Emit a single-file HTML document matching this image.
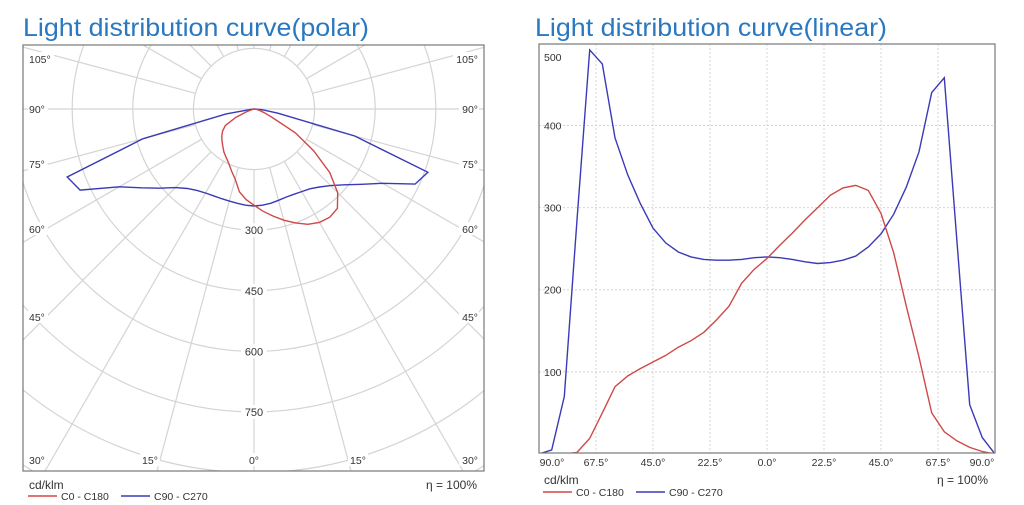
<!DOCTYPE html>
<html><head><meta charset="utf-8"><style>
html,body{margin:0;padding:0;background:#fff;width:1024px;height:505px;overflow:hidden}
svg{display:block;font-family:"Liberation Sans",sans-serif;overflow:hidden}
</style></head><body>
<svg id="s" width="1024" height="505" viewBox="0 0 1024 505">
<text x="23" y="36" font-size="25" fill="#2a78c0" textLength="346" lengthAdjust="spacingAndGlyphs">Light distribution curve(polar)</text>
<text x="535" y="36" font-size="25" fill="#2a78c0" textLength="352" lengthAdjust="spacingAndGlyphs">Light distribution curve(linear)</text>
<defs>
<clipPath id="cp"><rect x="23" y="45" width="461" height="426"/></clipPath>
<clipPath id="cl"><rect x="539" y="44" width="456" height="409"/></clipPath>
</defs>
<g id="polar"></g>
<g id="linear"></g>
</svg>
<script>
const angles = [-90,-85,-80,-75,-70,-65,-60,-55,-50,-45,-40,-35,-30,-25,-20,-15,-10,-5,0,5,10,15,20,25,30,35,40,45,50,55,60,65,70,75,80,85,90];
const c0c180 = [0,0,0,2,19,50,82,95,104,112,120,130,138,148,163,180,208,225,238,254,269,285,300,315,324,327,321,293,245,180,118,50,27,16,8,3,0];
const c90c270 = [0,5,70,285,492,475,385,340,305,275,257,246,240,237,236,236,237,239,240,239,237,234,232,233,236,241,252,268,292,325,368,440,458,258,60,20,0];
const polarRings = [150,300,450,600,750,900,1050,1200];
const polarRingLabels = ["300","450","600","750"];
const linearYTicks = [100,200,300,400,500];
const linearXTicks = [-90,-67.5,-45,-22.5,0,22.5,45,67.5,90];
const linearXLabels = ["90.0°","67.5°","45.0°","22.5°","0.0°","22.5°","45.0°","67.5°","90.0°"];

const NS="http://www.w3.org/2000/svg";
function mk(tag,attrs,parent){const e=document.createElementNS(NS,tag);for(const k in attrs)e.setAttribute(k,attrs[k]);parent.appendChild(e);return e;}
const RED="#d04848", BLUE="#3a3ab8", GRID="#d4d4d4";

// ---------- polar ----------
const P=document.getElementById('polar');
const cx=254, cy=109, k=0.404;
const pr=v=>v*k;
const pg=mk('g',{'clip-path':'url(#cp)'},P);


polarRings.forEach(v=>{
  const c=mk('circle',{cx:cx,cy:cy,r:pr(v),fill:'none',stroke:GRID,'stroke-width':1.2},pg);
  
  
});
for(let a=0;a<360;a+=15){
  const t=a*Math.PI/180, r0=pr(150), r1=pr(2000);
  const l=mk('line',{x1:cx+r0*Math.sin(t),y1:cy+r0*Math.cos(t),x2:cx+r1*Math.sin(t),y2:cy+r1*Math.cos(t),stroke:GRID,'stroke-width':1.2},pg);
  
  
}
const hl=mk('line',{x1:cx-pr(150),y1:cy,x2:cx+pr(150),y2:cy,stroke:GRID,'stroke-width':1.2},pg);


polarRingLabels.forEach(s=>{
  const y=cy+pr(+s);
  const bg=mk('rect',{x:cx-13,y:y-7,width:26,height:14,fill:'#fff'},P);
  
  
  const t=mk('text',{x:cx,y:y+4,'font-size':11,'text-anchor':'middle',fill:'#333'},P);
  t.textContent=s;
  
  
});
const angLabels=[["105°",59],["90°",109],["75°",164],["60°",229],["45°",317],["30°",460]];
angLabels.forEach(([s,y])=>{
  [[29,'start'],[478,'end']].forEach(([x,anc])=>{
    const bg=mk('rect',{x:anc==='start'?x-1:x-s.length*6-1,y:y-7,width:s.length*6+2,height:13,fill:'#fff'},P);
    
    
    const t=mk('text',{x:x,y:y+4,'font-size':10.5,'text-anchor':anc,fill:'#333'},P);
    t.textContent=s;
    
    
  });
});
[["15°",150],["0°",254],["15°",358]].forEach(([s,x])=>{
  const bg=mk('rect',{x:x-10,y:453,width:20,height:13,fill:'#fff'},P);
  
  
  const t=mk('text',{x:x,y:464,'font-size':10.5,'text-anchor':'middle',fill:'#333'},P);
  t.textContent=s;
  
  
});
function polarPath(vals){
  return vals.map((v,i)=>{const t=angles[i]*Math.PI/180;return (i?'L':'M')+(cx+pr(v)*Math.sin(t)).toFixed(1)+','+(cy+pr(v)*Math.cos(t)).toFixed(1);}).join('')+'Z';
}
const pb=mk('path',{d:polarPath(c90c270),fill:'none',stroke:BLUE,'stroke-width':1.4,'clip-path':'url(#cp)'},P);


const prd=mk('path',{d:polarPath(c0c180),fill:'none',stroke:RED,'stroke-width':1.4,'clip-path':'url(#cp)'},P);


const pbox=mk('rect',{x:23,y:45,width:461,height:426,fill:'none',stroke:'#777','stroke-width':1.2},P);



// ---------- linear ----------
const L=document.getElementById('linear');
const X0=539,X1=995,Y0=454;
const xs=a=>767+a*(228/90);
const ys=v=>Y0-v*0.8213;
linearXTicks.forEach(a=>{
  if(Math.abs(a)===90)return;
  const l=mk('line',{x1:xs(a),y1:44,x2:xs(a),y2:453,stroke:GRID,'stroke-dasharray':'2,2'},L);
  
  
});
linearYTicks.forEach(v=>{
  if(ys(v)>44.5){
    const l=mk('line',{x1:X0,y1:ys(v),x2:X1,y2:ys(v),stroke:GRID,'stroke-dasharray':'2,2'},L);
    
    
  }
  const t=mk('text',{x:544,y:Math.max(ys(v),57)+4,'font-size':10.5,fill:'#333'},L);
  t.textContent=String(v);
  
  
});
linearXTicks.forEach((a,i)=>{
  const x=Math.min(Math.max(xs(a),552),982);
  const t=mk('text',{x:x,y:466,'font-size':10.5,'text-anchor':'middle',fill:'#333'},L);
  t.textContent=linearXLabels[i];
  
  
});
function linPath(vals){return vals.map((v,i)=>(i?'L':'M')+xs(angles[i]).toFixed(1)+','+ys(v).toFixed(1)).join('');}
const lb=mk('path',{d:linPath(c90c270),fill:'none',stroke:BLUE,'stroke-width':1.4,'clip-path':'url(#cl)'},L);


const lr=mk('path',{d:linPath(c0c180),fill:'none',stroke:RED,'stroke-width':1.4,'clip-path':'url(#cl)'},L);


const lbox=mk('rect',{x:539,y:44,width:456,height:409,fill:'none',stroke:'#777','stroke-width':1.2},L);



// ---------- legends ----------
const S=document.getElementById('s');
function legend(x0,yUnit,yLeg,etaX){
  const g=mk('g',{},S);
  
  
  const u=mk('text',{x:x0,y:yUnit,'font-size':12,fill:'#333'},g);u.textContent='cd/klm';
  
  
  const e=mk('text',{x:etaX,y:yUnit,'font-size':12,'text-anchor':'end',fill:'#333'},g);e.textContent='η = 100%';
  
  
  const l1=mk('line',{x1:x0-1,y1:yLeg-4,x2:x0+28,y2:yLeg-4,stroke:RED,'stroke-width':1.4},g);
  
  
  const t1=mk('text',{x:x0+32,y:yLeg,'font-size':10.5,fill:'#333'},g);t1.textContent='C0 - C180';
  
  
  const l2=mk('line',{x1:x0+92,y1:yLeg-4,x2:x0+121,y2:yLeg-4,stroke:BLUE,'stroke-width':1.4},g);
  
  
  const t2=mk('text',{x:x0+125,y:yLeg,'font-size':10.5,fill:'#333'},g);t2.textContent='C90 - C270';
  
  
}
legend(29,489,500,477);
legend(544,484,496,988);
</script>
</body></html>
